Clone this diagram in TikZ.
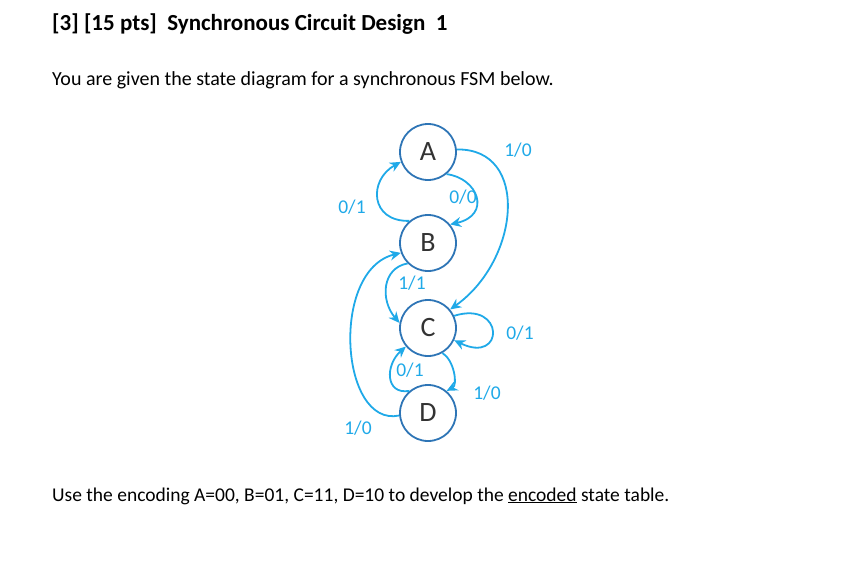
\documentclass[tikz,border=0pt]{standalone}
\usepackage{fontspec}
\setmainfont{Carlito}
\usetikzlibrary{arrows.meta}
\definecolor{stc}{HTML}{2E75B6}
\definecolor{edc}{HTML}{1FA9E8}
\begin{document}
\begin{tikzpicture}[x=1pt,y=-1pt,
  st/.style={circle,draw=stc,line width=1.8pt,minimum size=56pt,inner sep=0pt,font=\fontsize{28}{30}\selectfont,text=black!80},
  ed/.style={draw=edc,line width=1.8pt,-{Stealth[length=11pt,width=10pt]}},
  lb/.style={text=edc,font=\fontsize{19.5}{22}\selectfont},
  tx/.style={anchor=west,font=\fontsize{20}{24}\selectfont,inner sep=0pt}]
\useasboundingbox (0,0) rectangle (842,570);
\node[tx,font=\bfseries\fontsize{23}{26}\selectfont] (t1) at (52,24) {[3] [15 pts] \ Synchronous Circuit Design \ 1};
\node[tx] (t2) at (52,80) {You are given the state diagram for a synchronous FSM below.};
\node[tx,font=\fontsize{19.5}{24}\selectfont] (t3) at (52,496) {Use the encoding A=00, B=01, C=11, D=10 to develop the \underline{encoded} state table.};
\node[st] (A) at (428,152) {A};
\node[st] (B) at (428,243) {B};
\node[st] (C) at (428,328) {C};
\node[st] (D) at (428,413) {D};
\draw[ed] (A.5) .. controls (530,148) and (520,260) .. (C.40);
\node[lb] (l1) at (518,150) {1/0};
\draw[ed] (A.-50) .. controls (478,178) and (492,215) .. (B.40);
\node[lb] (l2) at (463,197) {0/0};
\draw[ed] (B.130) .. controls (370,222) and (368,180) .. (A.200);
\node[lb] (l3) at (352,207) {0/1};
\draw[ed] (B.225) .. controls (382,268) and (380,300) .. (C.170);
\node[lb] (l4) at (412,283) {1/1};
\draw[ed] (C.25) .. controls (505,300) and (505,365) .. (C.-25);
\node[lb] (l5) at (520,333) {0/1};
\draw[ed] (C.-60) .. controls (454,360) and (458,385) .. (D.50);
\node[lb] (l6) at (487,393) {1/0};
\draw[ed] (D.130) .. controls (385,395) and (385,365) .. (C.220);
\node[lb] (l7) at (410,370) {0/1};
\draw[ed] (D.185) .. controls (340,428) and (330,270) .. (B.200);
\node[lb] (l8) at (358,428) {1/0};
\end{tikzpicture}
\end{document}
